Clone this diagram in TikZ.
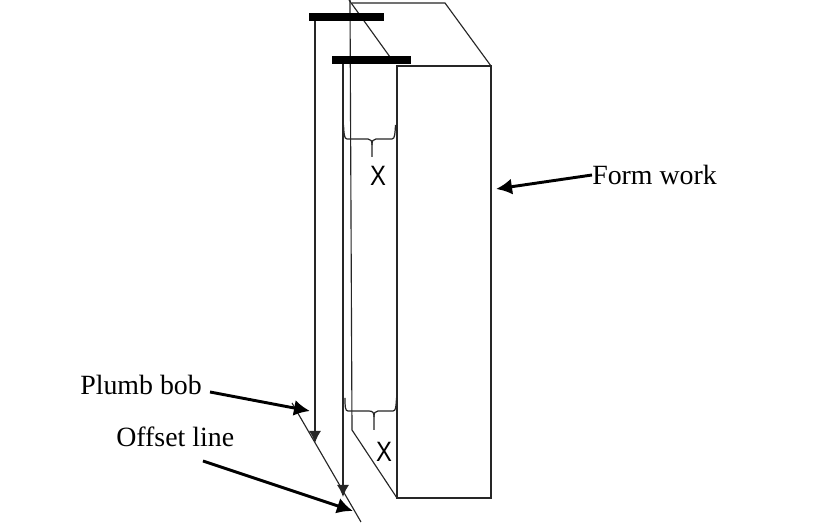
\documentclass[tikz,border=0pt]{standalone}
\usepackage{fontspec}
\setmainfont{Liberation Serif}
\setsansfont{Liberation Sans}
\usetikzlibrary{arrows.meta}
\tikzset{
  form/.style={draw=black!85, line width=.85pt},
  bar/.style={fill=black, draw=none},
  plumb/.style={draw=black!85, line width=1.1pt, -{Latex[length=9pt,width=9pt]}},
  pointer/.style={draw=black, line width=2.2pt, -{Latex[length=12pt,width=12pt]}},
  brace/.style={draw=black!85, line width=.9pt},
  lbl/.style={font=\fontsize{20.9}{25}\selectfont, inner sep=0pt},
  xlbl/.style={font=\sffamily\fontsize{21}{24}\selectfont, inner sep=0pt}
}
\begin{document}
\begin{tikzpicture}[x=.75pt,y=-.75pt]
\useasboundingbox (0,0) rectangle (826,523);
\fill [white] (0,0) rectangle (826,523);
% form work
\draw [form] (397,66) rectangle (491,498);
\draw [form] (352,3) -- (445,3) -- (491,66);
\draw [form] (349,0) -- (390,57);
\draw [form] (350,0) -- (352,430) -- (397,498);
% offset line
\draw [form] (292,403) -- (361,522);
% plumb lines
\path [bar] (309,13) rectangle (384,21);
\path [bar] (332,56) rectangle (411,64);
\coordinate (top1) at (315,21);
\coordinate (bot1) at (315,443);
\coordinate (top2) at (343,64);
\coordinate (bot2) at (343,497);
\draw [plumb] (top1) -- (bot1);
\draw [plumb] (top2) -- (bot2);
% braces
\draw [brace] (343.5,125) .. controls (344,133) and (344,139) .. (347,139) -- (368,139) .. controls (371,139) and (372,141) .. (372,145) -- (372,157);
\draw [brace] (395.5,125) .. controls (395,133) and (395,139) .. (392,139) -- (376,139) .. controls (373,139) and (372,141) .. (372,145);
\draw [brace] (345,398) .. controls (345,406) and (345,411) .. (348,411) -- (369,411) .. controls (373,411) and (374,413) .. (374,417) -- (374,430);
\draw [brace] (396.5,398) .. controls (396,406) and (396,411) .. (393,411) -- (378,411) .. controls (375,411) and (374,413) .. (374,417);
\node [xlbl] (xtop) at (378,176) {\scalebox{.85}[1]{X}};
\node [xlbl] (xbot) at (384,452) {\scalebox{.85}[1]{X}};
% labels
\node [lbl, anchor=west] (formlbl) at (592,175) {Form work};
\node [lbl, anchor=west] (bob) at (80,385) {Plumb bob};
\node [lbl, anchor=west] (offset) at (116,437) {Offset line};
\coordinate (formtip) at (496,189);
\coordinate (bobstart) at (210,392);
\coordinate (bobtip) at (310,411);
\coordinate (offstart) at (203,461);
\coordinate (offtip) at (353,511);
\draw [pointer] (formlbl.west) -- (formtip);
\draw [pointer] (bobstart) -- (bobtip);
\draw [pointer] (offstart) -- (offtip);
\end{tikzpicture}
\end{document}
